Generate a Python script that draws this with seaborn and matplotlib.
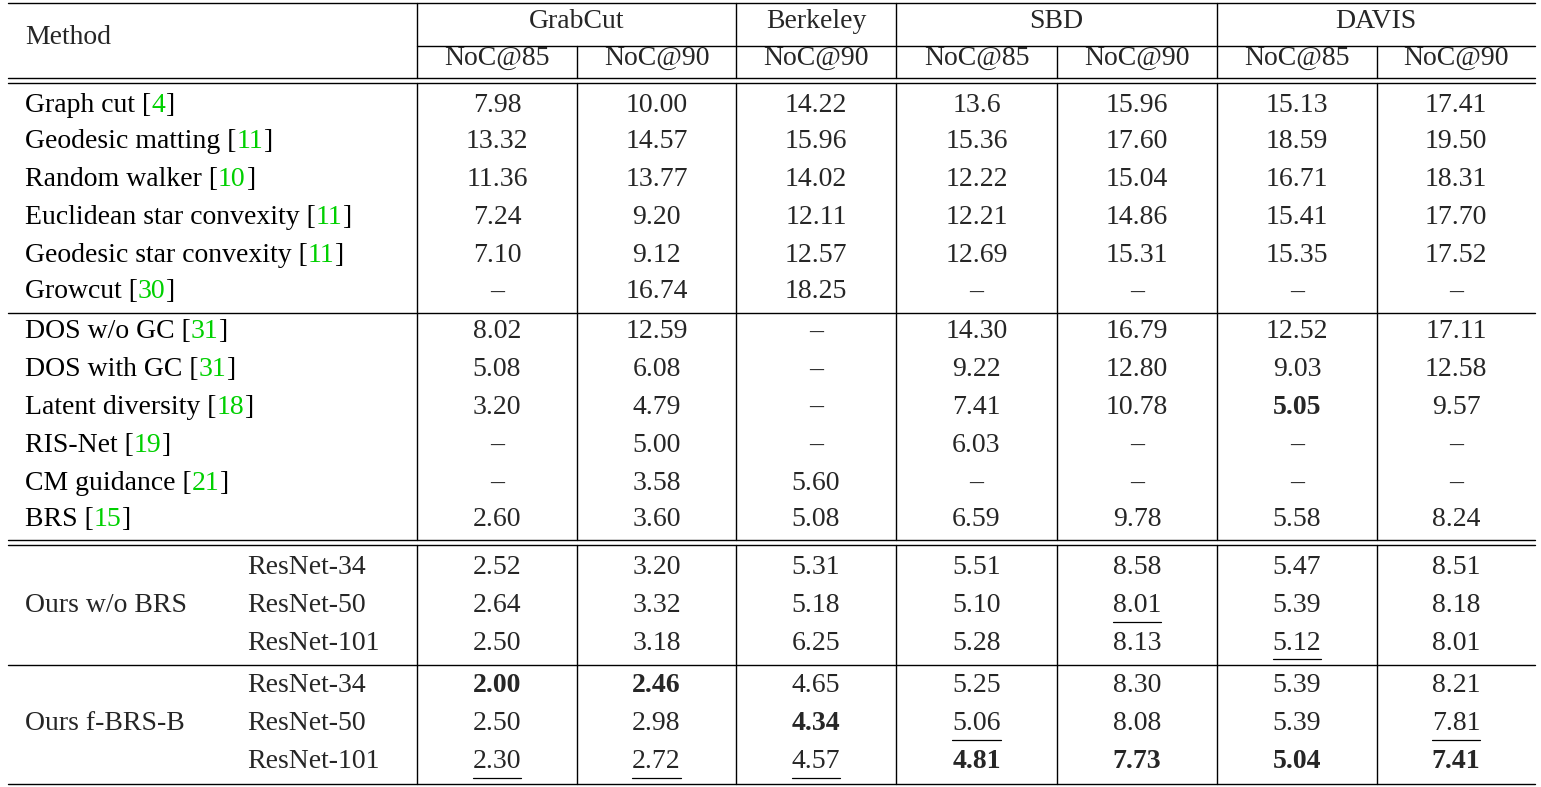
import matplotlib
matplotlib.use("Agg")
import matplotlib.pyplot as plt
import seaborn as sns

groups = ["GrabCut", "Berkeley", "SBD", "DAVIS"]
group_span = [2, 1, 2, 2]
metrics = ["NoC@85", "NoC@90", "NoC@90", "NoC@85", "NoC@90", "NoC@85", "NoC@90"]

methods_a = ["Graph cut", "Geodesic matting", "Random walker", "Euclidean star convexity",
             "Geodesic star convexity", "Growcut"]
cites_a = ["4", "11", "10", "11", "11", "30"]
values_a = [
    ["7.98", "10.00", "14.22", "13.6", "15.96", "15.13", "17.41"],
    ["13.32", "14.57", "15.96", "15.36", "17.60", "18.59", "19.50"],
    ["11.36", "13.77", "14.02", "12.22", "15.04", "16.71", "18.31"],
    ["7.24", "9.20", "12.11", "12.21", "14.86", "15.41", "17.70"],
    ["7.10", "9.12", "12.57", "12.69", "15.31", "15.35", "17.52"],
    ["–", "16.74", "18.25", "–", "–", "–", "–"],
]
methods_b = ["DOS w/o GC", "DOS with GC", "Latent diversity", "RIS-Net", "CM guidance", "BRS"]
cites_b = ["31", "31", "18", "19", "21", "15"]
values_b = [
    ["8.02", "12.59", "–", "14.30", "16.79", "12.52", "17.11"],
    ["5.08", "6.08", "–", "9.22", "12.80", "9.03", "12.58"],
    ["3.20", "4.79", "–", "7.41", "10.78", "*5.05", "9.57"],
    ["–", "5.00", "–", "6.03", "–", "–", "–"],
    ["–", "3.58", "5.60", "–", "–", "–", "–"],
    ["2.60", "3.60", "5.08", "6.59", "9.78", "5.58", "8.24"],
]
ours_names = ["Ours w/o BRS", "Ours f-BRS-B"]
backbones = ["ResNet-34", "ResNet-50", "ResNet-101"]
# '*' = bold, '_' = underline
values_c = [
    ["2.52", "3.20", "5.31", "5.51", "8.58", "5.47", "8.51"],
    ["2.64", "3.32", "5.18", "5.10", "_8.01", "5.39", "8.18"],
    ["2.50", "3.18", "6.25", "5.28", "8.13", "_5.12", "8.01"],
    ["*2.00", "*2.46", "4.65", "5.25", "8.30", "5.39", "8.21"],
    ["2.50", "2.98", "*4.34", "_5.06", "8.08", "5.39", "_7.81"],
    ["_2.30", "_2.72", "_4.57", "*4.81", "*7.73", "*5.04", "*7.41"],
]

sns.set_theme(style="white")
plt.rcParams["font.family"] = ["Liberation Serif", "DejaVu Serif"]
fig = plt.figure(figsize=(15.41, 7.87), dpi=100)
ax = fig.add_axes([0, 0, 1, 1])
ax.set_xlim(0, 1541)
ax.set_ylim(787, 0)
ax.axis("off")
fig.canvas.draw()
rend = fig.canvas.get_renderer()
FS = 20
GREEN = "#00d000"

vx = [8, 417, 577, 736, 896, 1057, 1217, 1377, 1535]
centers = [(vx[i] + vx[i + 1]) / 2 for i in range(1, 8)]

def hline(y, x0=8, x1=1535, lw=1.0):
    ax.plot([x0, x1], [y, y], color="black", lw=lw)

def width_of(t):
    bb = t.get_window_extent(rend)
    return bb.width

def cell(x, y, s):
    weight = "normal"
    under = False
    if s.startswith("*"):
        weight, s = "bold", s[1:]
    if s.startswith("_"):
        under, s = True, s[1:]
    t = ax.text(x, y, s, ha="center", va="center", fontsize=FS, weight=weight)
    if under:
        w = width_of(t)
        ax.plot([x - w / 2, x + w / 2], [y + 16, y + 16], color="black", lw=0.9)

def method(x, y, name, cite):
    parts = [(name + " [", "black"), (cite, GREEN), ("]", "black")]
    for s, c in parts:
        t = ax.text(x, y, s, ha="left", va="center", fontsize=FS, color=c)
        x += width_of(t)

# header
hline(3)
ax.text(25, 38, "Method", ha="left", va="center", fontsize=FS)
col = 0
for g, n in zip(groups, group_span):
    x0, x1 = vx[1 + col], vx[1 + col + n]
    ax.text((x0 + x1) / 2, 21, g, ha="center", va="center", fontsize=FS)
    col += n
hline(46, vx[1])
for c, m in zip(centers, metrics):
    ax.text(c, 58, m, ha="center", va="center", fontsize=FS)
hline(78)
hline(83)

rows_a = [105, 142, 180, 218, 255, 292]
rows_b = [332, 370, 407, 445, 483, 520]
rows_c = [568, 606, 643, 686, 724, 762]

for y, m, c, vals in zip(rows_a, methods_a, cites_a, values_a):
    method(25, y, m, c)
    for xc, v in zip(centers, vals):
        cell(xc, y, v)
hline(313)
for y, m, c, vals in zip(rows_b, methods_b, cites_b, values_b):
    method(25, y, m, c)
    for xc, v in zip(centers, vals):
        cell(xc, y, v)
hline(540)
hline(545)
for i, (y, vals) in enumerate(zip(rows_c, values_c)):
    ax.text(247, y, backbones[i % 3], ha="left", va="center", fontsize=FS)
    for xc, v in zip(centers, vals):
        cell(xc, y, v)
ax.text(25, rows_c[1], ours_names[0], ha="left", va="center", fontsize=FS)
ax.text(25, rows_c[4], ours_names[1], ha="left", va="center", fontsize=FS)
hline(665)
hline(784)

for i, x in enumerate(vx):
    if i in (0, 8):
        continue
    y0 = 3 if i in (1, 3, 4, 6) else 46
    segs = [(y0, 78), (83, 540), (545, 784)]
    for a, b in segs:
        ax.plot([x, x], [a, b], color="black", lw=1.0)

fig.savefig("out.png", dpi=100)
